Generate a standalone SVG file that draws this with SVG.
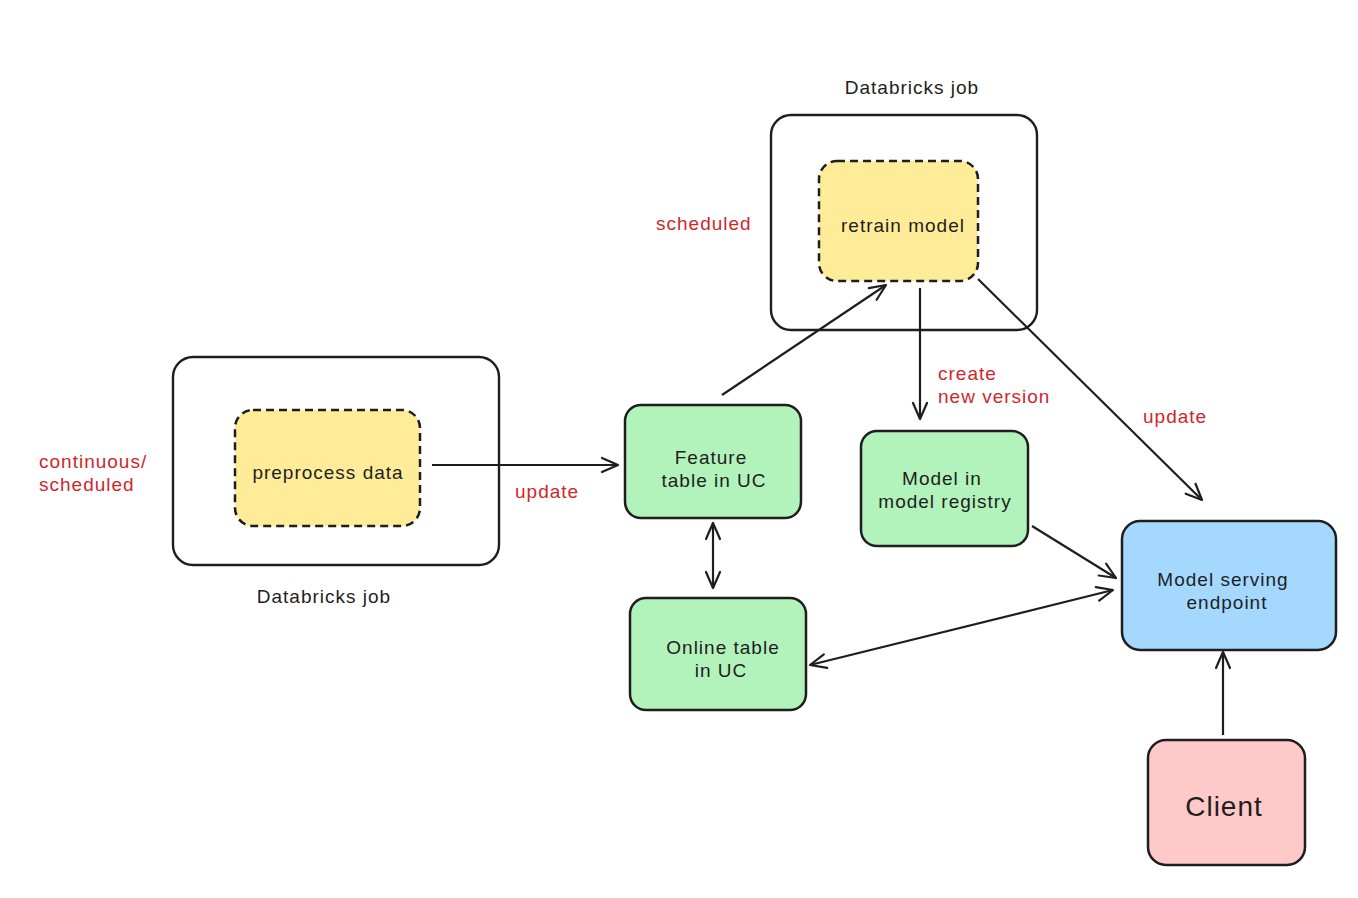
<svg xmlns="http://www.w3.org/2000/svg" width="1358" height="898" viewBox="0 0 1358 898">
<style>
.job{fill:#ffffff;stroke:#1e1e1e;stroke-width:2.4}
.task{fill:#ffec99;stroke:#1e1e1e;stroke-width:2.5;stroke-dasharray:8 5}
.green{fill:#b2f2bb;stroke:#1e1e1e;stroke-width:2.5}
.blue{fill:#a5d8ff;stroke:#1e1e1e;stroke-width:2.5}
.pink{fill:#ffc9c9;stroke:#1e1e1e;stroke-width:2.5}
text{font-family:"Liberation Sans",Arial,sans-serif;font-size:19px;letter-spacing:1px;fill:#1e1e1e;text-anchor:middle}
.red{fill:#d0262b;text-anchor:start}
.conn{fill:none;stroke:#1e1e1e;stroke-width:2.2}
</style>
<defs>
<marker id="ah" viewBox="0 0 20 20" refX="18" refY="10" markerWidth="20" markerHeight="20" markerUnits="userSpaceOnUse" orient="auto-start-reverse">
<path d="M2,3 L18,10 L2,17" fill="none" stroke="#1e1e1e" stroke-width="2.2" stroke-linecap="round" stroke-linejoin="round"/>
</marker>
</defs>
<rect width="1358" height="898" fill="#ffffff"/>

<g id="job-preprocess">
<rect class="job" x="173" y="357" width="326" height="208" rx="20"/>
<text x="324" y="603">Databricks job</text>
</g>
<g id="preprocess-data">
<rect class="task" x="235" y="410" width="185" height="116" rx="18"/>
<text x="328" y="479">preprocess data</text>
</g>
<g id="job-retrain">
<rect class="job" x="771" y="115" width="266" height="215" rx="20"/>
<text x="912" y="94">Databricks job</text>
</g>
<g id="retrain-model">
<rect class="task" x="819" y="161" width="159" height="120" rx="18"/>
<text x="903" y="232">retrain model</text>
</g>
<g id="feature-table">
<rect class="green" x="625" y="405" width="176" height="113" rx="16"/>
<text x="711" y="464">Feature</text>
<text x="714" y="487">table in UC</text>
</g>
<g id="model-registry">
<rect class="green" x="861" y="431" width="167" height="115" rx="16"/>
<text x="942" y="485">Model in</text>
<text x="945" y="508">model registry</text>
</g>
<g id="online-table">
<rect class="green" x="630" y="598" width="176" height="112" rx="16"/>
<text x="723" y="654">Online table</text>
<text x="721" y="677">in UC</text>
</g>
<g id="model-serving">
<rect class="blue" x="1122" y="521" width="214" height="129" rx="18"/>
<text x="1223" y="586">Model serving</text>
<text x="1227" y="609">endpoint</text>
</g>
<g id="client">
<rect class="pink" x="1148" y="740" width="157" height="125" rx="18"/>
<text x="1224" y="816" style="font-size:28px">Client</text>
</g>

<g id="labels">
<text class="red" x="39" y="468">continuous/</text>
<text class="red" x="39" y="491">scheduled</text>
<text class="red" x="515" y="498">update</text>
<text class="red" x="656" y="230">scheduled</text>
<text class="red" x="938" y="380">create</text>
<text class="red" x="938" y="403">new version</text>
<text class="red" x="1143" y="423">update</text>
</g>

<g id="connectors">
<path class="conn" d="M432,465 L618,465" marker-end="url(#ah)"/>
<path class="conn" d="M722,395 L886,285" marker-end="url(#ah)"/>
<path class="conn" d="M920,288 L920,419" marker-end="url(#ah)"/>
<path class="conn" d="M978,279 L1202,500" marker-end="url(#ah)"/>
<path class="conn" d="M713,523 L713,588" marker-start="url(#ah)" marker-end="url(#ah)"/>
<path class="conn" d="M1032,526 L1116,578" marker-end="url(#ah)"/>
<path class="conn" d="M810,665 L1113,590" marker-start="url(#ah)" marker-end="url(#ah)"/>
<path class="conn" d="M1223,735 L1223,652" marker-end="url(#ah)"/>
</g>
</svg>
